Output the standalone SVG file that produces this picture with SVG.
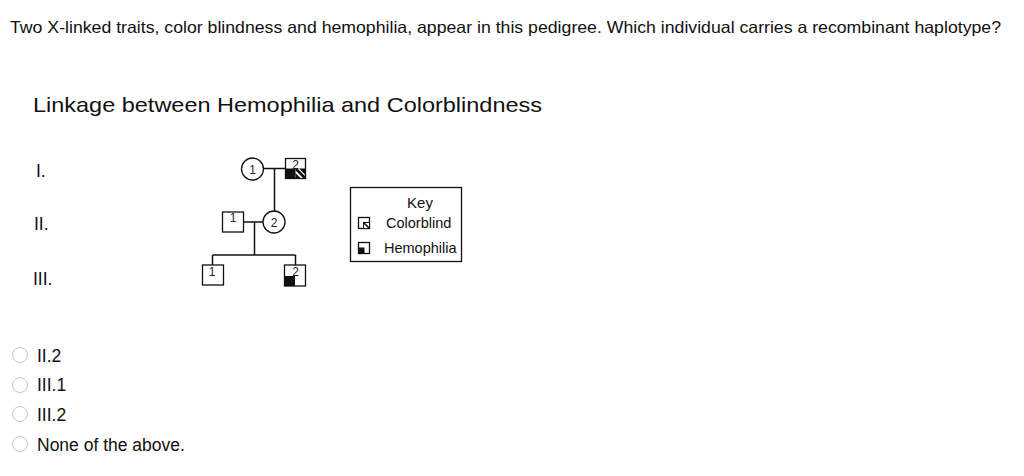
<svg xmlns="http://www.w3.org/2000/svg" width="1024" height="476" viewBox="0 0 1024 476">
<style>
.t{font-family:"Liberation Sans",Arial,sans-serif;fill:#111}
.sym{fill:#fff;stroke:#111;stroke-width:1.3}
.ln{stroke:#111;stroke-width:1.5;fill:none}
.num{font-family:"Liberation Sans",Arial,sans-serif;font-size:12px;fill:#223;text-anchor:middle}
.radio{fill:#fff;stroke:#c8c8c8;stroke-width:1}
</style>
<rect width="1024" height="476" fill="#fff"/>
<text class="t" x="10" y="33" font-size="16.5" textLength="991" lengthAdjust="spacingAndGlyphs">Two X-linked traits, color blindness and hemophilia, appear in this pedigree. Which individual carries a recombinant haplotype?</text>
<text class="t" x="33" y="112" font-size="21" textLength="509" lengthAdjust="spacingAndGlyphs">Linkage between Hemophilia and Colorblindness</text>
<text class="t" x="36" y="177" font-size="17.5">I.</text>
<text class="t" x="34" y="230" font-size="17.5">II.</text>
<text class="t" x="33" y="285" font-size="17.5">III.</text>
<g id="connectors">
<line class="ln" x1="263" y1="168.5" x2="285" y2="168.5"/>
<line class="ln" x1="274.5" y1="168.5" x2="274.5" y2="211"/>
<line class="ln" x1="244" y1="222" x2="263" y2="222"/>
<line class="ln" x1="254.5" y1="222" x2="254.5" y2="255"/>
<line class="ln" x1="212.5" y1="255" x2="295.5" y2="255"/>
<line class="ln" x1="212.5" y1="255" x2="212.5" y2="265"/>
<line class="ln" x1="295.5" y1="255" x2="295.5" y2="265"/>
</g>
<g id="I1">
<circle class="sym" cx="252.5" cy="169" r="11"/>
<text class="num" x="252.5" y="173.5">1</text>
</g>
<g id="I2">
<rect class="sym" x="285.5" y="158.5" width="20" height="20"/>
<rect x="285.5" y="168.5" width="10" height="10" fill="#111"/>
<polygon points="299,168.5 305.5,168.5 305.5,175" fill="#111"/>
<line x1="296" y1="169" x2="305" y2="178" stroke="#111" stroke-width="2.6"/>
<polygon points="295.5,173 295.5,178.5 301,178.5" fill="#111"/>
<text class="num" x="295.5" y="168.5">2</text>
</g>
<g id="II1">
<rect class="sym" x="222.5" y="212" width="21" height="20"/>
<text class="num" x="233" y="222">1</text>
</g>
<g id="II2">
<circle class="sym" cx="274" cy="222" r="11"/>
<text class="num" x="274" y="226.5">2</text>
</g>
<g id="III1">
<rect class="sym" x="202.5" y="265" width="21" height="20"/>
<text class="num" x="212" y="275.5">1</text>
</g>
<g id="III2">
<rect class="sym" x="284.5" y="265" width="21" height="21"/>
<rect x="284.5" y="276" width="10.5" height="10" fill="#111"/>
<text class="num" x="295.5" y="275.5">2</text>
</g>
<g id="key">
<rect x="350.5" y="187.5" width="111" height="74" fill="#fff" stroke="#111" stroke-width="1.3"/>
<text class="t" x="420" y="208" font-size="15" text-anchor="middle">Key</text>
<rect class="sym" x="358.5" y="217.5" width="11" height="11"/>
<rect x="363.5" y="222.5" width="6" height="6" fill="#fff" stroke="#111" stroke-width="1"/>
<line x1="364" y1="223" x2="369" y2="228" stroke="#111" stroke-width="1.6"/>
<text class="t" x="386" y="228" font-size="14.5">Colorblind</text>
<rect class="sym" x="358.5" y="242.5" width="11" height="11"/>
<rect x="358.5" y="247.5" width="6" height="6" fill="#111"/>
<text class="t" x="384" y="253" font-size="14.5">Hemophilia</text>
</g>
<g id="options">
<circle class="radio" cx="20" cy="355" r="7.5"/>
<circle class="radio" cx="20" cy="385" r="7.5"/>
<circle class="radio" cx="20" cy="414" r="7.5"/>
<circle class="radio" cx="20" cy="444" r="7.5"/>
<text class="t" x="37" y="362" font-size="17.5">II.2</text>
<text class="t" x="37" y="391" font-size="17.5">III.1</text>
<text class="t" x="37" y="421" font-size="17.5">III.2</text>
<text class="t" x="37" y="451" font-size="17.5">None of the above.</text>
</g>
</svg>
